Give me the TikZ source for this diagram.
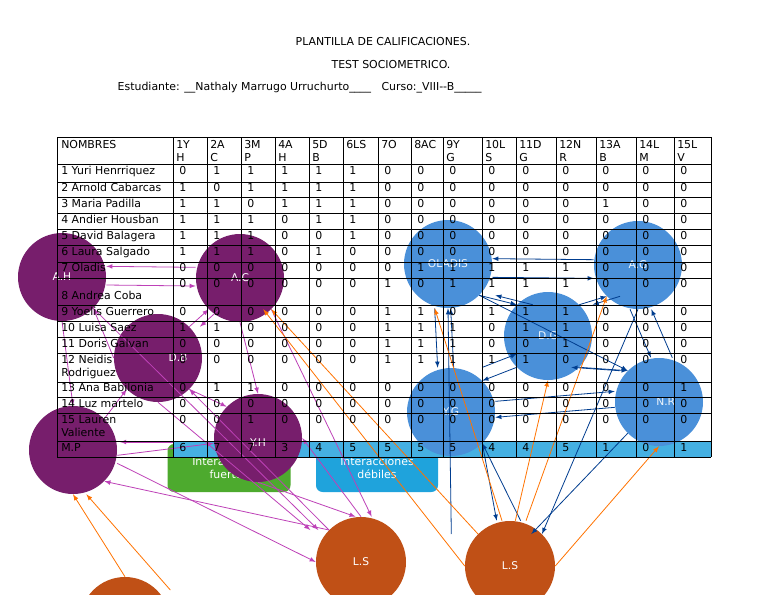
\documentclass[tikz,border=0pt]{standalone}
\usepackage{fontspec}
\setmainfont{DejaVu Sans}
\begin{document}
\begin{tikzpicture}[x=0.75pt,y=-0.75pt,
  pc/.style={circle,fill=purp,minimum size=88*0.75pt,inner sep=0pt,text=white,font=\fontsize{8}{9}\selectfont},
  bc/.style={circle,fill=blu,minimum size=88*0.75pt,inner sep=0pt,text=white!90!blu,font=\fontsize{8}{9}\selectfont},
  oc/.style={circle,fill=oran,minimum size=90*0.75pt,inner sep=0pt,text=white,font=\fontsize{8}{9}\selectfont},
  pa/.style={draw=purp!60!magenta!80!white,line width=0.6pt,-latex},
  ba/.style={draw=teal!60!blue!80!black,line width=0.6pt,-latex},
  oa/.style={draw=orange!90!red,line width=0.6pt,-latex},
  tx/.style={font=\fontsize{8.2}{9}\selectfont,inner sep=0pt,anchor=north west}]
\definecolor{purp}{HTML}{771E6C}
\definecolor{blu}{HTML}{4A90D9}
\definecolor{oran}{HTML}{C05016}
\definecolor{tot}{HTML}{45B0E2}
\definecolor{grn}{HTML}{4DAA2E}
\definecolor{cyb}{HTML}{1FA3DC}
\useasboundingbox (0,0) rectangle (768,594);
\fill[white] (0,0) rectangle (768,594);
% titles
\node[font=\fontsize{8.2}{9}\selectfont] (t1) at (383,42) {PLANTILLA DE CALIFICACIONES.};
\node[font=\fontsize{8.2}{9}\selectfont] (t2) at (391,65) {TEST SOCIOMETRICO.};
\node[font=\fontsize{8.2}{9}\selectfont,anchor=west] (t3) at (113,88) {Estudiante: \_\_Nathaly Marrugo Urruchurto\_\_\_\_\ \ \ Curso:\_VIII-{}-B\_\_\_\_\_};
% legend boxes
\node[draw=none,fill=grn,rounded corners=5pt,minimum width=123*0.75pt,minimum height=48*0.75pt,text=white,align=center,font=\fontsize{8.2}{10}\selectfont] (lg1) at (229,468) {Interacciones\\fuertes};
\node[draw=none,fill=cyb,rounded corners=5pt,minimum width=122*0.75pt,minimum height=48*0.75pt,text=white,align=center,font=\fontsize{8.2}{10}\selectfont] (lg2) at (377,468) {Interacciones\\débiles};
% total row fill
\fill[tot] (173,441) rectangle (711,457);
% circles
\node[pc] (ah) at (62,277) {A.H};
\node[pc] (ac) at (240,278) {A.C};
\node[pc] (db) at (158,358) {\hspace{30pt}D.B};
\node[pc] (yh) at (258,438) {\raisebox{-12pt}{Y.H}};
\node[pc] (mp) at (73,450) {};
\node[bc] (ol) at (448,264) {OLADIS};
\node[bc] (ag) at (638,265) {A.G};
\node[bc] (dg) at (548,336) {D.G};
\node[bc] (yg) at (451,412) {Y.G};
\node[bc] (nr) at (659,402) {\hspace{10pt}N.R};
\node[oc] (ls1) at (361,562) {L.S};
\node[oc] (ls2) at (510,566) {L.S};
\node[oc] (ls3) at (125,622) {};
% purple arrows
\draw[pa] ([yshift=-6]ah.east) -- ([yshift=-6]ac.west);
\draw[pa] ([yshift=8]ac.west) -- ([yshift=8]ah.east);
\draw[pa] (ah.south) -- (mp.north);
\draw[pa] (db.north east) -- (ac.south west);
\draw[pa] ([xshift=8]ac.south west) -- ([xshift=8]db.north east);
\draw[pa] (db.south east) -- (yh.north west);
\draw[pa] (ac.south) -- (yh.north);
\draw[pa] (mp.north east) -- (db.south west);
\draw[pa] (db.west) -- (ah.south east);
\draw[pa] ([yshift=-4]mp.east) -- ([yshift=-4]yh.west);
\coordinate (mpe) at (120,442);
\draw[pa] (173,442) -- (mpe);
\draw[pa] (ls1.north west) -- (mp.south east);
\draw[pa] ([yshift=-10]mp.east) -- (ls1.west);
\draw[pa] (ah.south east) -- ([xshift=-8]ls1.north west);
\draw[pa] (ac.south east) -- ([xshift=8]ls1.north);
\draw[pa] (db.south) -- ([xshift=-14]ls1.north west);
\draw[pa] (yh.south) -- ([xshift=-4]ls1.north);
\draw[pa] (ls1.north) -- (yh.east);
\draw[pa] (ls1.north west) -- (db.south east);
% blue arrows
\draw[ba] ([yshift=-10]ol.east) -- ([yshift=-10]ag.west);
\draw[ba] ([yshift=4]ag.west) -- ([yshift=4]ol.east);
\draw[ba] (ol.south east) -- (dg.north west);
\draw[ba] ([xshift=12]dg.north west) -- ([xshift=12]ol.south east);
\draw[ba] (dg.north east) -- (ag.south west);
\draw[ba] ([xshift=10]ag.south west) -- ([xshift=10]dg.north east);
\draw[ba] (dg.south west) -- (yg.north east);
\draw[ba] ([yshift=10]yg.north east) -- ([yshift=10]dg.south west);
\draw[ba] (dg.south east) -- (nr.north west);
\draw[ba] ([xshift=-6]nr.north west) -- ([xshift=-6]dg.south east);
\draw[ba] ([xshift=-6]ag.south) -- ([xshift=-6]nr.north);
\draw[ba] ([xshift=10]nr.north) -- ([xshift=10]ag.south);
\draw[ba] ([xshift=-10]ol.south) -- ([xshift=-10]yg.north);
\draw[ba] ([xshift=2]yg.north) -- ([xshift=2]ol.south);
\draw[ba] ([yshift=8]yg.east) -- ([yshift=8]nr.west);
\draw[ba] ([yshift=-4]nr.west) -- ([yshift=-4]yg.east);
\draw[ba] (ol.south east) -- (nr.north west);
\draw[ba] (yg.south east) -- ([xshift=-10]ls2.north);
\draw[ba] (ag.south) -- (ls2.north east);
\draw[ba] (nr.south west) -- ([xshift=-8]ls2.north east);
\draw[ba] ([xshift=8]ls2.north) -- (yg.south east);
\draw[ba] ([xshift=-20]ls2.north west) -- (ol.south);
% orange arrows
\draw[oa] (ls2.north west) -- (ac.south east);
\draw[oa] ([xshift=-6]ls2.north) -- ([xshift=-10]ol.south);
\draw[oa] ([xshift=4]ls2.north) -- (dg.south);
\draw[oa] ([xshift=12]ls2.north) -- (ag.south west);
\draw[oa] (ls2.west) -- ([xshift=-6]ac.south east);
\draw[oa] (ls3.north) -- (mp.south);
\draw[oa] ([xshift=10]ls3.north east) -- ([xshift=10]mp.south);
\draw[oa] (ls2.east) -- (nr.south);
% table grid
\foreach \y in {137,164,182,197,213,229,245,262,278,305,321,337,353,382,397,413,441,457}
  \draw[line width=0.6pt] (57,\y) -- (711,\y);
\foreach \x in {57,173,207,241,275,309,343,378,411,443,482,516,556,596,636,674,711}
  \draw[line width=0.6pt] (\x,137) -- (\x,457);
% header
\node[tx] (h0) at (61,140) {NOMBRES};
\foreach \x/\t [count=\i] in {173/1Y\\H,207/2A\\C,241/3M\\P,275/4A\\H,309/5D\\B,343/6LS,378/7O,411/8AC,443/9Y\\G,482/10L\\S,516/11D\\G,556/12N\\R,596/13A\\B,636/14L\\M,674/15L\\V}
  \node[tx,align=left,font=\fontsize{8.2}{10}\selectfont] (hd\i) at (\x+3,140) {\t};
% names
\foreach \y/\t [count=\i] in {166/1 Yuri Henrriquez,183/2 Arnold Cabarcas,199/3 Maria Padilla,215/4 Andier Housban,231/5 David Balagera,247/6 Laura Salgado,263/7 Oladis,291/8 Andrea Coba,307/9 Yoelis Guerrero,323/10 Luisa Saez,339/11 Doris Galvan,399/14 Luz martelo,443/M.P}
  \node[tx] (nm\i) at (61,\y) {\t};
\node[tx,align=left,font=\fontsize{8.2}{10}\selectfont] (nm12) at (61,355) {12 Neidis\\Rodriguez};
\node[tx] (nm13) at (61,383) {13 Ana Babilonia};
\node[tx,align=left,font=\fontsize{8.2}{10}\selectfont] (nm15) at (61,415) {15 Lauren\\Valiente};
% data
\foreach \y/\row [count=\r] in {166/{0,1,1,1,1,1,0,0,0,0,0,0,0,0,0},183/{1,0,1,1,1,1,0,0,0,0,0,0,0,0,0},199/{1,1,0,1,1,1,0,0,0,0,0,0,1,0,0},215/{1,1,1,0,1,1,0,0,0,0,0,0,0,0,0},231/{1,1,1,0,0,1,0,0,0,0,0,0,0,0,0},247/{1,1,1,0,1,0,0,0,0,0,0,0,0,0,0},263/{0,0,0,0,0,0,0,1,1,1,1,1,0,0,0},279/{0,0,0,0,0,0,1,0,1,1,1,1,0,0,0},307/{0,0,0,0,0,0,1,1,0,1,1,1,0,0,0},323/{1,1,0,0,0,0,1,1,1,0,1,1,0,0,0},339/{0,0,0,0,0,0,1,1,1,0,0,1,0,0,0},355/{0,0,0,0,0,0,1,1,1,1,1,0,0,0,0},383/{0,1,1,0,0,0,0,0,0,0,0,0,0,0,1},399/{0,0,0,0,0,0,0,0,0,0,0,0,0,0,0},415/{0,0,1,0,0,0,0,0,0,0,0,0,0,0,0},443/{6,7,7,3,4,5,5,5,5,4,4,5,1,0,1}}
  \foreach \v [count=\c] in \row {
    \pgfmathsetmacro{\xx}{{173,207,241,275,309,343,378,411,443,482,516,556,596,636,674}[\c-1]}
    \node[tx] (d\r-\c) at (\xx+6,\y) {\v};
  }
\end{tikzpicture}
\end{document}
